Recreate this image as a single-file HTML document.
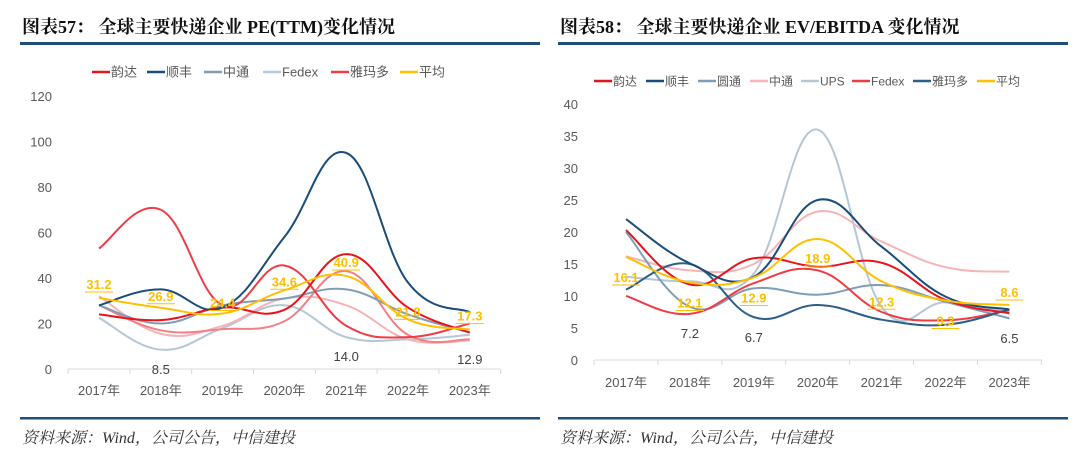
<!DOCTYPE html>
<html><head><meta charset="utf-8"><style>
html,body{margin:0;padding:0;background:#fff;}
body{width:1080px;height:462px;overflow:hidden;font-family:"Liberation Sans","Noto Sans CJK SC",sans-serif;}
svg text{font-family:"Liberation Sans","Noto Sans CJK SC",sans-serif;}
svg text.serif{font-family:"Liberation Serif","Noto Serif CJK SC",serif;}
</style></head><body>
<svg id="s" width="1080" height="462" xmlns="http://www.w3.org/2000/svg">
<text class="serif" x="22" y="33" font-size="18" font-weight="bold" fill="#111">图表57： 全球主要快递企业 PE(TTM)变化情况</text>
<text class="serif" x="560" y="33" font-size="18" font-weight="bold" fill="#111">图表58： 全球主要快递企业 EV/EBITDA 变化情况</text>
<rect x="20" y="42" width="520" height="3" fill="#1f4e79"/>
<rect x="558" y="42" width="510" height="3" fill="#1f4e79"/>
<rect x="20" y="417" width="520" height="2.5" fill="#1f4e79"/>
<rect x="558" y="417" width="510" height="2.5" fill="#1f4e79"/>
<text class="serif" x="22" y="443" font-size="16" font-style="italic" fill="#333">资料来源：Wind，公司公告，中信建投</text>
<text class="serif" x="560" y="443" font-size="16" font-style="italic" fill="#333">资料来源：Wind，公司公告，中信建投</text>
<g id="c1"></g><g id="c2"></g>
</svg>
<script>
const years = ["2017年","2018年","2019年","2020年","2021年","2022年","2023年"];
// Chart 1: PE(TTM)
const pe_yunda = [24,21.5,27,26,50.5,27,16];
const pe_sf = [28,35,27,58,95,38,25];
const pe_zto = [28,20,28,31,35,24,16];
const pe_fedex = [22.5,8.5,18,28,14,13,15];
const pe_yamato = [53,70,28,45.5,19,14,20];
const pe_pink1 = [28,17,17.5,21,43,15,13];
const pe_pink2 = [32,15.5,19,31,28,13,12.5];
const pe_avg = [31.2,26.9,24.4,34.6,40.9,21.8,17.3];
const pe_ticks = [0,20,40,60,80,100,120];
const pe_blackLabels = [[1,"8.5"],[4,"14.0"],[6,"12.9"]];
// Chart 2: EV/EBITDA
const ev_yunda = [20.3,11.8,15.9,14.6,15.2,9.4,7.3];
const ev_sf = [22,15.1,13,25,17.7,9.9,7.9];
const ev_yto = [20,8.3,11.2,10.2,11.7,9.1,6.5];
const ev_zto = [16.2,14,15,23.2,18.5,14.5,13.8];
const ev_ups = [13,12.3,13.5,36,8.3,9,7.5];
const ev_fedex = [10,7.2,12,14,7.5,6.2,7.8];
const ev_yamato = [11,15,6.7,8.6,6.3,5.5,7.9];
const ev_avg = [16.1,12.1,12.9,18.9,12.3,9.3,8.6];
const ev_ticks = [0,5,10,15,20,25,30,35,40];
const ev_blackLabels = [[1,"7.2"],[2,"6.7"],[6,"6.5"]];

const NS="http://www.w3.org/2000/svg";
function mk(parent,tag,attrs,text){const e=document.createElementNS(NS,tag);for(const k in attrs)e.setAttribute(k,attrs[k]);if(text!==undefined)e.textContent=text;parent.appendChild(e);return e;}
function smooth(pts){let d="M"+pts[0][0]+","+pts[0][1];for(let i=0;i<pts.length-1;i++){const p0=pts[i-1]||pts[i],p1=pts[i],p2=pts[i+1],p3=pts[i+2]||p2;const t=0.2;d+=" C"+(p1[0]+(p2[0]-p0[0])*t)+","+(p1[1]+(p2[1]-p0[1])*t)+" "+(p2[0]-(p3[0]-p1[0])*t)+","+(p2[1]-(p3[1]-p1[1])*t)+" "+p2[0]+","+p2[1];}return d;}

function chart(g,cfg){
  const x=i=>cfg.x0+i*cfg.dx, y=v=>cfg.y0-(v-0)/cfg.vmax*(cfg.y0-cfg.ytop);
  mk(g,"line",{x1:cfg.axL,x2:cfg.axR,y1:cfg.y0,y2:cfg.y0,stroke:"#d9d9d9","stroke-width":1});
  for(let i=0;i<=years.length;i++){const tx=cfg.x0-cfg.dx/2+i*cfg.dx;mk(g,"line",{x1:tx,x2:tx,y1:cfg.y0,y2:cfg.y0+5,stroke:"#d9d9d9"});}
  cfg.ticks.forEach(t=>{const e=mk(g,"text",{x:cfg.tickX,y:y(t)+5,"text-anchor":"end","font-size":13,fill:"#595959"},t);
    
    });
  years.forEach((yr,i)=>{const e=mk(g,"text",{x:x(i),y:cfg.xlabY,"text-anchor":"middle","font-size":13,fill:"#595959"},yr);
    
    });
  cfg.series.forEach(s=>{const p=mk(g,"path",{d:smooth(s.v.map((v,i)=>[x(i),y(v)])),fill:"none",stroke:s.c,"stroke-width":2,opacity:s.o||1});
    
    });
  cfg.avg.forEach((v,i)=>{const ly=y(v)+cfg.avgOff[i];const t=mk(g,"text",{x:x(i),y:ly,"text-anchor":"middle","font-size":13,"font-weight":"bold",fill:"#ffc000"},v.toFixed(1));
    
    
    mk(g,"line",{x1:x(i)-14,x2:x(i)+14,y1:ly+3,y2:ly+3,stroke:"#ffc000","stroke-width":1});});
  cfg.black.forEach(b=>{const t=mk(g,"text",{x:x(b[0]),y:cfg.blackY[b[0]],"text-anchor":"middle","font-size":13,fill:"#404040"},b[1]);
    
    });
  cfg.legend.forEach(l=>{mk(g,"line",{x1:l.x,x2:l.x+18,y1:cfg.legY,y2:cfg.legY,stroke:l.c,"stroke-width":2.5});
    const t=mk(g,"text",{x:l.x+19,y:cfg.legY+4.5,"font-size":cfg.legFs,fill:"#595959"},l.n);
    
    });
}
chart(document.getElementById("c1"),{x0:99,dx:61.8,y0:369,ytop:96,vmax:120,axL:68,axR:500,tickX:52,xlabY:395,ticks:pe_ticks,legFs:13,
  series:[{n:"fedex",v:pe_fedex,c:"#b4c7d6"},{n:"pink2",v:pe_pink2,c:"#f6b4b6"},{n:"pink1",v:pe_pink1,c:"#f47f85"},{n:"zto",v:pe_zto,c:"#7f9db5"},{n:"yamato",v:pe_yamato,c:"#f03c45"},{n:"yunda",v:pe_yunda,c:"#e8141c"},{n:"sf",v:pe_sf,c:"#1a4d7a"},{n:"avg",v:pe_avg,c:"#ffc000"}],
  avg:pe_avg,avgOff:[-9,-7,-6,-4,-9,-3,-9],black:pe_blackLabels,blackY:{1:374,4:361,6:364},
  legY:72,legend:[{x:92,n:"韵达",c:"#e8141c"},{x:147,n:"顺丰",c:"#1a4d7a"},{x:204,n:"中通",c:"#7f9db5"},{x:263,n:"Fedex",c:"#b4c7d6"},{x:331,n:"雅玛多",c:"#f03c45"},{x:400,n:"平均",c:"#ffc000"}]});
chart(document.getElementById("c2"),{x0:626,dx:63.9,y0:360,ytop:104,vmax:40,axL:595,axR:1042,tickX:578,xlabY:387,ticks:ev_ticks,legFs:12,
  series:[{n:"ups",v:ev_ups,c:"#b4c7d6"},{n:"zto",v:ev_zto,c:"#f6b4b6"},{n:"yto",v:ev_yto,c:"#7f9db5"},{n:"fedex",v:ev_fedex,c:"#f03c45"},{n:"yamato",v:ev_yamato,c:"#2e5f8a"},{n:"yunda",v:ev_yunda,c:"#e8141c"},{n:"sf",v:ev_sf,c:"#1a4d7a"},{n:"avg",v:ev_avg,c:"#ffc000"}],
  avg:ev_avg,avgOff:[25,25,25,24,25,25,-8],black:ev_blackLabels,blackY:{1:338,2:342,6:343},
  legY:81,legend:[{x:594,n:"韵达",c:"#e8141c"},{x:646,n:"顺丰",c:"#1a4d7a"},{x:698,n:"圆通",c:"#7f9db5"},{x:750,n:"中通",c:"#f6b4b6"},{x:801,n:"UPS",c:"#b4c7d6"},{x:852,n:"Fedex",c:"#f03c45"},{x:913,n:"雅玛多",c:"#2e5f8a"},{x:977,n:"平均",c:"#ffc000"}]});
</script>
</body></html>
